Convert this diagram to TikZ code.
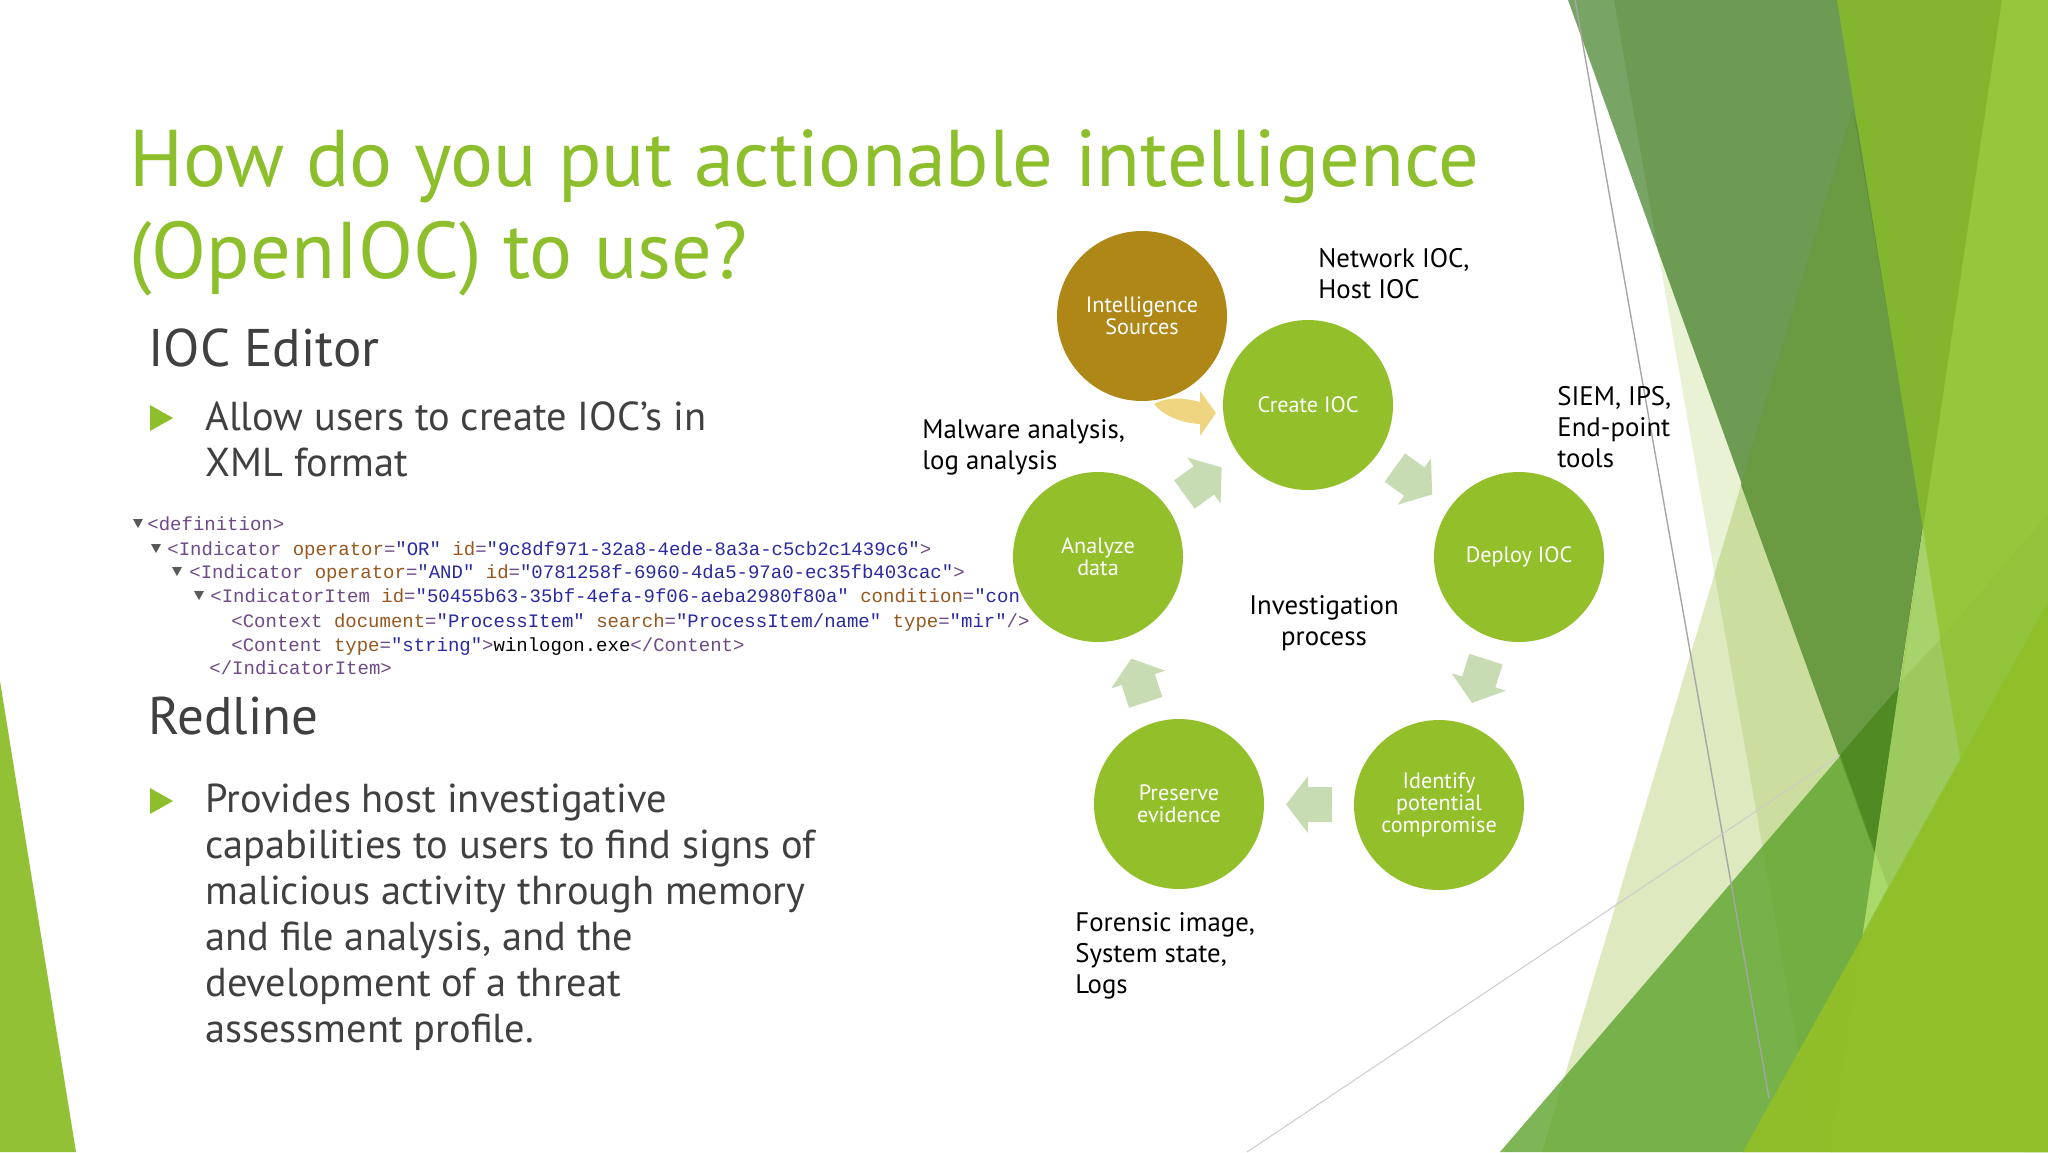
\documentclass[tikz,border=0pt]{standalone}
\usepackage{fontspec}
\usetikzlibrary{calc}
\setmainfont{PT Sans}
\newfontfamily\codefont{Liberation Mono}
\definecolor{leafgreen}{HTML}{92BF2A}
\definecolor{titlegreen}{HTML}{8DBE2B}
\definecolor{bodygray}{HTML}{404040}
\definecolor{ochre}{HTML}{AF8716}
\definecolor{arrowpale}{HTML}{C8DCB4}
\definecolor{arrowgold}{HTML}{F0D580}
\definecolor{codetag}{HTML}{6E4A86}
\definecolor{codeattr}{HTML}{96581E}
\definecolor{codeval}{HTML}{2A2AA0}
\newcommand{\tg}[1]{\textcolor{codetag}{#1}}
\newcommand{\atr}[1]{\textcolor{codeattr}{#1}}
\newcommand{\vl}[1]{\textcolor{codeval}{#1}}
\newcommand{\codetri}[2]{\fill[codegray] (#1,#2) -- ++(10,0) -- ++(-5,9) -- cycle;}
\tikzset{
  codegray/.style={color=black!65},
  flowarrow/.style={fill=arrowpale},
  stepnode/.style={circle,fill=leafgreen,minimum size=85pt,inner sep=0pt,text=white,align=center,font=\fontsize{11.1}{11}\selectfont},
  sourcenode/.style={stepnode,fill=ochre},
  labeltext/.style={anchor=base west,align=left,inner sep=0pt,text=black,font=\fontsize{13.4}{15.3}\selectfont},
  bodytext/.style={anchor=base west,align=left,inner sep=0pt,text=bodygray,font=\fontsize{20.2}{23}\selectfont},
  headtext/.style={anchor=base west,inner sep=0pt,text=bodygray,font=\fontsize{26.5}{30}\selectfont},
  titletext/.style={anchor=base west,align=left,inner sep=0pt,text=titlegreen,font=\fontsize{40.2}{46}\selectfont},
  codeline/.style={anchor=base west,inner sep=0pt,font=\codefont\fontsize{9.5}{12}\selectfont},
  bulletmark/.style={fill=titlegreen},
}
\begin{document}
\begin{tikzpicture}[x=0.5pt,y=-0.5pt]
\useasboundingbox (0,0) rectangle (2048,1152);
\fill[white] (0,0) rectangle (2048,1152);
% background facets
\fill[fill=titlegreen!95!white] (0,681) -- (76,1152) -- (0,1152) -- cycle;
\fill[fill={rgb,255:red,120;green,164;blue,101}] (1568,0) -- (2002,0) -- (1874,852) -- cycle;
\begin{scope}[blend mode=multiply]
\fill[fill={rgb,255:red,233;green,242;blue,212}] (1614,0) -- (1837,0) -- (2024,1152) -- (1816,1152) -- cycle;
\fill[fill={rgb,255:red,223;green,233;blue,192}] (1853,110) -- (1542,1152) -- (1950,1152) -- (1950,500) -- cycle;
\end{scope}
\fill[fill={rgb,255:red,106;green,154;blue,66}] (1853,110) -- (1741,485) -- (1874,852) -- (1923,522) -- cycle;
\fill[fill={rgb,255:red,131;green,181;blue,46}] (1837,0) -- (2048,0) -- (2048,1152) -- (2024,1152) -- cycle;
\fill[fill={rgb,255:red,93;green,163;blue,45},fill opacity=.8] (1500,1152) -- (2048,514) -- (2048,1152) -- cycle;
\fill[fill={rgb,255:red,79;green,138;blue,35}] (1840,755) -- (1899,687) -- (1875,852) -- cycle;
\fill[fill={rgb,255:red,154;green,201;blue,62},fill opacity=.85] (2002,0) -- (2048,0) -- (2048,1152) -- (1830,1152) -- cycle;
\fill[fill={rgb,255:red,166;green,211;blue,107}] (1923,530) -- (1940,640) -- (1902,680) -- cycle;
\fill[fill={rgb,255:red,157;green,202;blue,94}] (1940,640) -- (1960,758) -- (1888,887) -- (1875,852) -- (1899,687) -- (1902,680) -- cycle;
\fill[fill={rgb,255:red,169;green,216;blue,107}] (1875,852) -- (1888,887) -- (1863,933) -- cycle;
\draw[black!35,line width=.7pt] (1575,0) -- (1769,1098);
\draw[black!20,line width=.5pt] (1247,1152) -- (1840,755);
\fill[fill={rgb,255:red,145;green,191;blue,40},fill opacity=.94] (1743,1152) -- (2048,602) -- (2048,1152) -- cycle;
% title and text
\node[titletext] (title) at (129,278) {How do you put actionable intelligence\\(OpenIOC) to use?};
\node[headtext] (ioced) at (148,366) {IOC Editor};
\fill[bulletmark] (150,405) -- (173,418) -- (150,431) -- cycle;
\node[bodytext] (allow) at (205,476) {Allow users to create IOC’s in\\XML format};
\node[headtext] (redline) at (148,734) {Redline};
\fill[bulletmark] (150,788) -- (173,801) -- (150,814) -- cycle;
\node[bodytext] (provides) at (205,1042) {Provides host investigative\\capabilities to users to find signs of\\malicious activity through memory\\and file analysis, and the\\development of a threat\\assessment profile.};
% code
\codetri{133}{519}
\codetri{151}{544}
\codetri{172}{567}
\codetri{194}{591}
\node[codeline] (c1) at (147,530) {\tg{<definition>}};
\node[codeline] (c2) at (167,555) {\tg{<Indicator} \atr{operator}\tg{=}\vl{"OR"} \atr{id}\tg{=}\vl{"9c8df971-32a8-4ede-8a3a-c5cb2c1439c6"}\tg{>}};
\node[codeline] (c3) at (189,578) {\tg{<Indicator} \atr{operator}\tg{=}\vl{"AND"} \atr{id}\tg{=}\vl{"0781258f-6960-4da5-97a0-ec35fb403cac"}\tg{>}};
\node[codeline] (c4) at (210,602) {\tg{<IndicatorItem} \atr{id}\tg{=}\vl{"50455b63-35bf-4efa-9f06-aeba2980f80a"} \atr{condition}\tg{=}\vl{"con}};
\node[codeline] (c5) at (231,627) {\tg{<Context} \atr{document}\tg{=}\vl{"ProcessItem"} \atr{search}\tg{=}\vl{"ProcessItem/name"} \atr{type}\tg{=}\vl{"mir"}\tg{/>}};
\node[codeline] (c6) at (231,651) {\tg{<Content} \atr{type}\tg{=}\vl{"string"}\tg{>}winlogon.exe\tg{</Content>}};
\node[codeline] (c7) at (209,674) {\tg{</IndicatorItem>}};
% process nodes
\coordinate (orangeA) at (1154,404);
\fill[fill=arrowgold] (orangeA) .. controls (1168,396) and (1185,398) .. (1200,402) -- (1200,391) -- (1216,413) -- (1200,436) -- (1200,424) .. controls (1180,423) and (1163,415) .. (orangeA) -- cycle;
\node[sourcenode] (intel) at (1142,316) {Intelligence\\Sources};
\node[stepnode] (create) at (1308,405) {Create IOC};
\node[stepnode] (deploy) at (1519,557) {Deploy IOC};
\node[stepnode] (identify) at (1439,805) {Identify\\potential\\compromise};
\node[stepnode] (preserve) at (1179,804) {Preserve\\evidence};
\node[stepnode] (analyze) at (1098,557) {Analyze\\data};
\foreach \a/\b in {create/deploy,deploy/identify,identify/preserve,preserve/analyze,analyze/create}{
  \coordinate (M) at ($(\a)!0.5!(\b)$);
  \coordinate (T) at ($(M)!-11.5pt!(\b)$);
  \coordinate (N) at ($(M)!0.5pt!(\b)$);
  \coordinate (P) at ($(M)!11.5pt!(\b)$);
  \fill[flowarrow] ($(T)!8.75pt!90:(\b)$) -- ($(N)!8.75pt!90:(\b)$) -- ($(N)!14.25pt!90:(\b)$) -- (P) -- ($(N)!-14.25pt!90:(\b)$) -- ($(N)!-8.75pt!90:(\b)$) -- ($(T)!-8.75pt!90:(\b)$) -- cycle;
}
% labels
\node[labeltext] (lnet) at (1318,298) {Network IOC,\\Host IOC};
\node[labeltext] (lsiem) at (1557,467) {SIEM, IPS,\\End-point\\tools};
\node[labeltext] (lmal) at (922,469) {Malware analysis,\\log analysis};
\node[labeltext,align=center,anchor=base] (linv) at (1324,645) {Investigation\\process};
\node[labeltext] (lfor) at (1075,993) {Forensic image,\\System state,\\Logs};
\end{tikzpicture}
\end{document}
